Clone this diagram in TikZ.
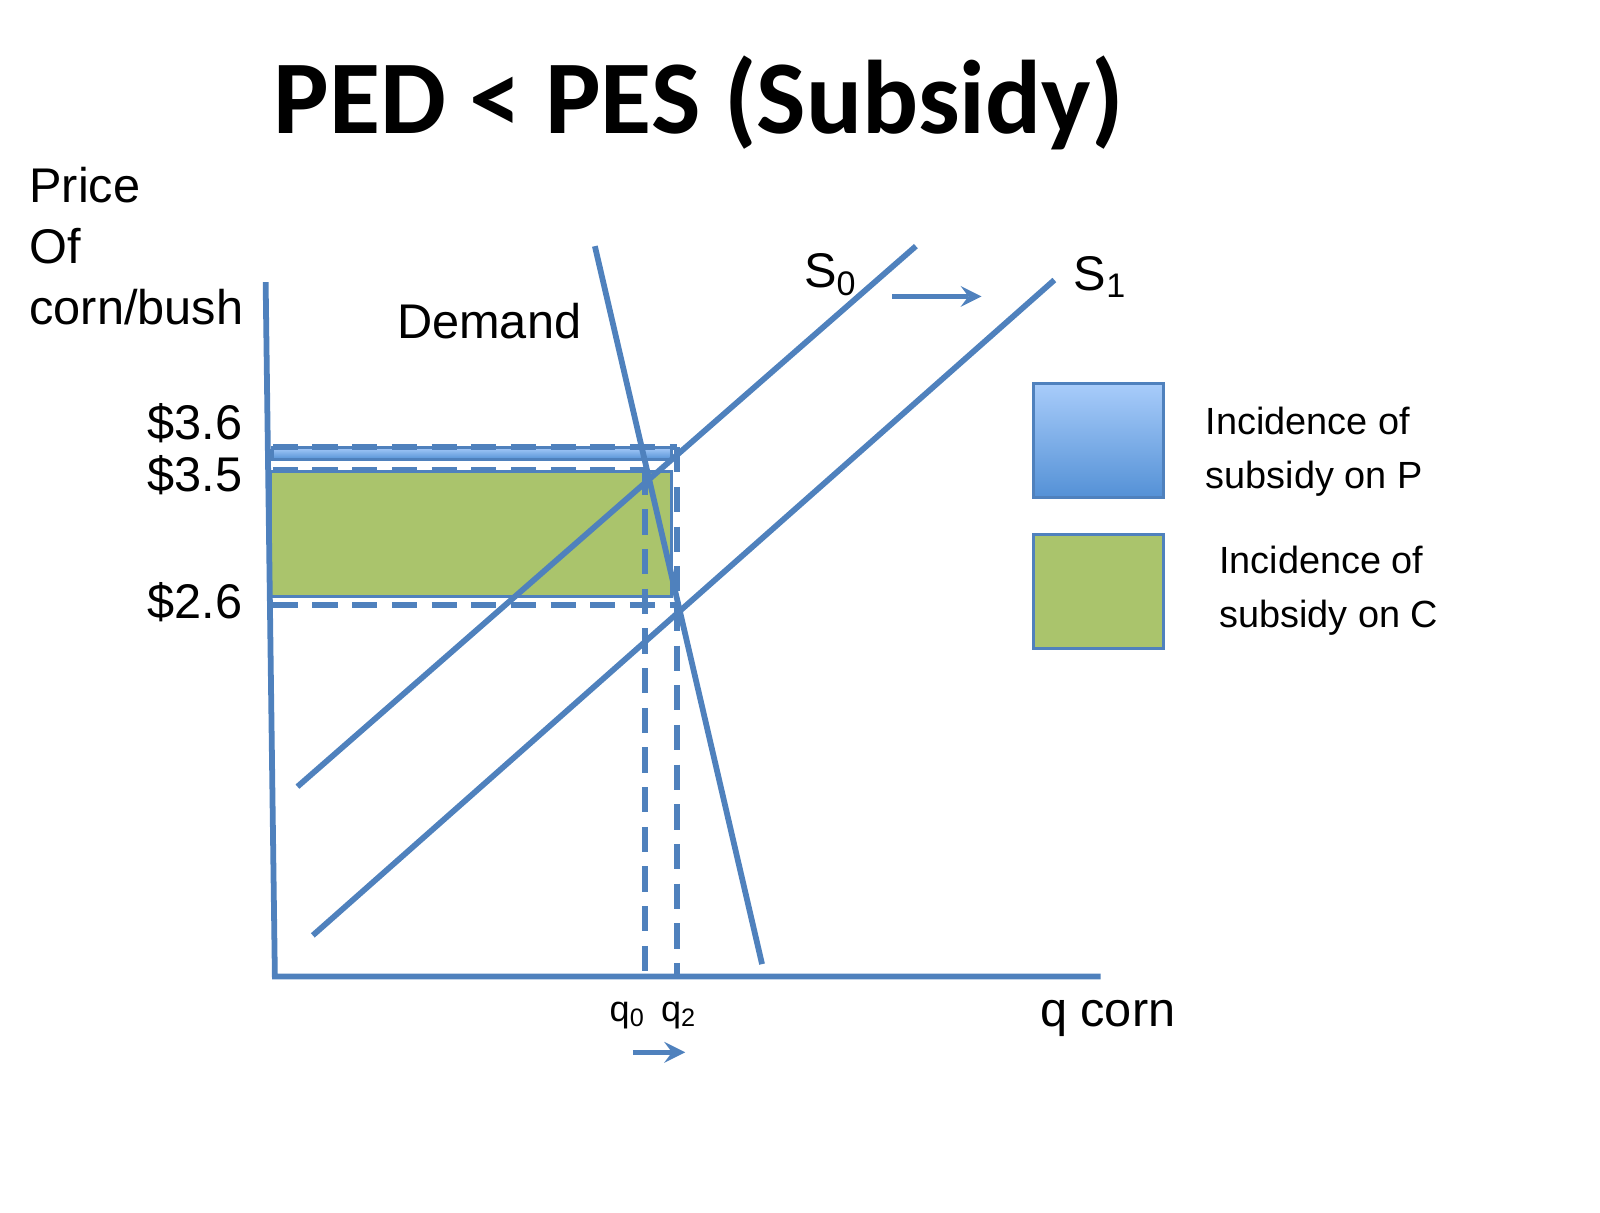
\documentclass[tikz,border=0pt]{standalone}
\usepackage{fontspec}
\setmainfont{Liberation Sans}
\newfontfamily\titlefont{Carlito}
\begin{document}
\begin{tikzpicture}[x=0.01cm,y=-0.01cm]
\definecolor{ln}{RGB}{79,129,189}
\definecolor{grn}{RGB}{170,196,108}
\definecolor{lb}{RGB}{168,204,250}
\definecolor{db}{RGB}{84,145,214}
\tikzset{curve/.style={draw=ln,line width=1.6pt},
 dsh/.style={draw=ln,line width=1.5pt,dash pattern=on 7pt off 4pt},
 arr/.style={draw=ln,line width=1.5pt,-stealth},
 lab/.style={font=\fontsize{13.5}{16}\selectfont,inner sep=0pt},
 leg/.style={font=\fontsize{10.5}{15}\selectfont,align=left,anchor=west,inner sep=0pt}}
\useasboundingbox (0,0) rectangle (1560,1182);
\node[font=\titlefont\bfseries\fontsize{29}{34}\selectfont] (title) at (681,100) {PED < PES (Subsidy)};
% rectangles
\fill[top color=lb,bottom color=db,draw=ln,line width=0.8pt] (266,436) rectangle (655,448);
\fill[grn,draw=ln,line width=0.8pt] (264,460) rectangle (655,582);
% dashed
\coordinate (a1) at (266,436); \coordinate (a2) at (660,436);
\coordinate (b1) at (266,458); \coordinate (b2) at (629,458);
\coordinate (c1) at (266,590); \coordinate (c2) at (660,590);
\coordinate (d1) at (629,950); \coordinate (d2) at (660,950);
\draw[dsh] (a1) -- (a2); \draw[dsh] (b1) -- (b2); \draw[dsh] (c1) -- (c2);
\draw[dsh] (b2) -- (d1); \draw[dsh] (a2) -- (d2);
% axes
\coordinate (ytop) at (259,275); \coordinate (o) at (268,952); \coordinate (xr) at (1073,952);
\draw[curve] (ytop) -- (o) -- (xr);
% curves
\coordinate (dA) at (580,240); \coordinate (dB) at (743,940);
\coordinate (s0A) at (290,767); \coordinate (s0B) at (893,240);
\coordinate (s1A) at (305,912); \coordinate (s1B) at (1028,273);
\draw[curve] (dA) -- (dB);
\draw[curve] (s0A) -- (s0B);
\draw[curve] (s1A) -- (s1B);
\coordinate (ar1) at (870,289); \coordinate (ar2) at (957,289);
\draw[arr] (ar1) -- (ar2);
\coordinate (ar3) at (617,1026); \coordinate (ar4) at (668,1026);
\draw[arr] (ar3) -- (ar4);
% labels
\node[lab,anchor=west] (p1) at (28,180) {Price};
\node[lab,anchor=west] (p2) at (28,240) {Of};
\node[lab,anchor=west] (p3) at (28,299) {corn/bush};
\node[lab] (dem) at (477,313) {Demand};
\node[lab] (s0) at (810,268) {S\textsubscript{0}};
\node[lab] (s1) at (1073,270) {S\textsubscript{1}};
\node[lab] (v36) at (190,413) {\$3.6};
\node[lab] (v35) at (190,463) {\$3.5};
\node[lab] (v26) at (190,587) {\$2.6};
\node[lab,font=\fontsize{10}{12}\selectfont] (q0) at (612,990) {q\textsubscript{0}};
\node[lab,font=\fontsize{10}{12}\selectfont] (q2) at (662,990) {q\textsubscript{2}};
\node[lab] (qc) at (1080,993) {q corn};
% legend
\fill[top color=lb,bottom color=db,draw=ln,line width=0.8pt] (1008,374) rectangle (1134,485);
\fill[grn,draw=ln,line width=0.8pt] (1008,521) rectangle (1134,632);
\node[leg] (tP) at (1175,440) {Incidence of\\subsidy on P};
\node[leg] (tC) at (1188,576) {Incidence of\\subsidy on C};
\end{tikzpicture}
\end{document}
